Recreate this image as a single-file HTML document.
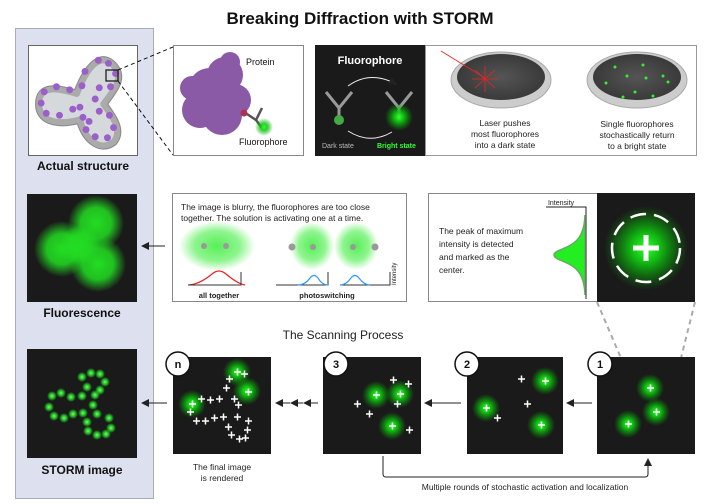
<!DOCTYPE html>
<html><head><meta charset="utf-8"><style>
html,body{margin:0;padding:0;background:#fff;}
svg{display:block;font-family:"Liberation Sans",sans-serif;}
</style></head><body>
<svg width="720" height="504" viewBox="0 0 720 504" xmlns="http://www.w3.org/2000/svg">
<defs>
<radialGradient id="g"><stop offset="0" stop-color="#3f3" stop-opacity="1"/><stop offset="0.35" stop-color="#1c1" stop-opacity="0.9"/><stop offset="1" stop-color="#0a0" stop-opacity="0"/></radialGradient>
<radialGradient id="gs"><stop offset="0" stop-color="#7f7"/><stop offset="0.5" stop-color="#2c2" stop-opacity="0.9"/><stop offset="1" stop-color="#2c2" stop-opacity="0"/></radialGradient>
<radialGradient id="gl"><stop offset="0" stop-color="#4e4" stop-opacity="0.9"/><stop offset="0.6" stop-color="#4e4" stop-opacity="0.6"/><stop offset="1" stop-color="#4e4" stop-opacity="0"/></radialGradient>
<radialGradient id="gf"><stop offset="0" stop-color="#2d2" stop-opacity="1"/><stop offset="0.55" stop-color="#2d2" stop-opacity="0.85"/><stop offset="1" stop-color="#2d2" stop-opacity="0"/></radialGradient>
<radialGradient id="dish"><stop offset="0" stop-color="#555"/><stop offset="1" stop-color="#3a3a3a"/></radialGradient>
<marker id="ah" markerWidth="8" markerHeight="8" refX="7" refY="4" orient="auto" markerUnits="userSpaceOnUse"><path d="M0,0 L8,4 L0,8 z" fill="#222"/></marker>
</defs>

<text x="360" y="24" text-anchor="middle" font-size="17" font-weight="bold" fill="#111">Breaking Diffraction with STORM</text>

<rect x="15.5" y="28.5" width="138" height="470" fill="#dde0ef" stroke="#aab"/>
<rect x="28.5" y="45.5" width="109" height="110" fill="#fff" stroke="#666"/>
<g transform="translate(85,99) scale(1.02)">
<path d="M-8,-5 C5,-40 20,-45 30,-30 C38,-18 25,-5 18,5 C25,15 38,30 28,42 C15,52 0,40 -5,20 C-20,25 -45,25 -45,5 C-45,-15 -25,-10 -8,-5 Z" fill="#c8ccd0" stroke="#888" stroke-width="8" stroke-linejoin="round"/>
<path d="M-8,-5 C5,-40 20,-45 30,-30 C38,-18 25,-5 18,5 C25,15 38,30 28,42 C15,52 0,40 -5,20 C-20,25 -45,25 -45,5 C-45,-15 -25,-10 -8,-5 Z" fill="#d6d9dc" stroke="#aaa" stroke-width="6" stroke-linejoin="round"/>
<g fill="#9b5fc9">
<circle cx="13" cy="-38" r="3.4"/><circle cx="23" cy="-35" r="3.4"/><circle cx="30" cy="-25" r="3.4"/><circle cx="25" cy="-12" r="3.4"/><circle cx="14" cy="-11" r="3.4"/>
<circle cx="0" cy="-27" r="3.4"/><circle cx="-3" cy="-13" r="3.4"/><circle cx="-15" cy="-9" r="3.4"/><circle cx="-28" cy="-12" r="3.4"/><circle cx="-40" cy="-7" r="3.4"/>
<circle cx="-43" cy="4" r="3.4"/><circle cx="-38" cy="14" r="3.4"/><circle cx="-25" cy="16" r="3.4"/><circle cx="-12" cy="10" r="3.4"/><circle cx="-5" cy="8" r="3.4"/>
<circle cx="10" cy="0" r="3.4"/><circle cx="14" cy="12" r="3.4"/><circle cx="24" cy="16" r="3.4"/><circle cx="28" cy="28" r="3.4"/><circle cx="22" cy="38" r="3.4"/>
<circle cx="10" cy="37" r="3.4"/><circle cx="1" cy="30" r="3.4"/><circle cx="-2" cy="18" r="3.4"/><circle cx="4" cy="22" r="3.4"/>
</g></g>
<rect x="106" y="70" width="12" height="11" fill="none" stroke="#111" stroke-width="1.2"/>
<line x1="118" y1="70" x2="173" y2="47" stroke="#111" stroke-dasharray="4,3"/>
<line x1="118" y1="81" x2="173" y2="155" stroke="#111" stroke-dasharray="4,3"/>
<text x="83" y="170" text-anchor="middle" font-size="12" font-weight="bold" fill="#111">Actual structure</text>

<rect x="27" y="194" width="110" height="108" fill="#1a1a1a"/>
<g fill="url(#gf)">
<circle cx="62" cy="249" r="28"/><circle cx="96" cy="223" r="28"/><circle cx="98" cy="264" r="28"/><circle cx="80" cy="245" r="20"/>
</g>
<text x="82" y="317" text-anchor="middle" font-size="12" font-weight="bold" fill="#111">Fluorescence</text>

<rect x="27" y="349" width="110" height="109" fill="#1a1a1a"/>
<g fill="url(#gs)">
<circle cx="91" cy="373" r="5"/><circle cx="100" cy="374" r="5"/><circle cx="82" cy="377" r="5"/><circle cx="105" cy="382" r="5"/><circle cx="87" cy="387" r="5"/><circle cx="100" cy="390" r="5"/>
<circle cx="52" cy="396" r="5"/><circle cx="61" cy="393" r="5"/><circle cx="71" cy="397" r="5"/><circle cx="82" cy="396" r="5"/><circle cx="95" cy="395" r="5"/>
<circle cx="49" cy="407" r="5"/><circle cx="54" cy="416" r="5"/><circle cx="64" cy="418" r="5"/><circle cx="73" cy="414" r="5"/><circle cx="83" cy="413" r="5"/><circle cx="93" cy="405" r="5"/>
<circle cx="87" cy="422" r="5"/><circle cx="97" cy="414" r="5"/><circle cx="109" cy="418" r="5"/><circle cx="111" cy="428" r="5"/><circle cx="88" cy="431" r="5"/><circle cx="97" cy="435" r="5"/><circle cx="106" cy="434" r="5"/>
</g>
<text x="82" y="474" text-anchor="middle" font-size="12" font-weight="bold" fill="#111">STORM image</text>

<rect x="173.5" y="45.5" width="130" height="110" fill="#fff" stroke="#888"/>
<g fill="#8a5aa6">
<circle cx="210" cy="90" r="22"/><circle cx="225" cy="75" r="18"/><circle cx="200" cy="110" r="18"/><circle cx="222" cy="115" r="20"/><circle cx="235" cy="100" r="16"/><circle cx="192" cy="88" r="12"/><circle cx="230" cy="62" r="10"/>
</g>
<circle cx="244" cy="113" r="3.5" fill="#b03050"/>
<path d="M247,114 L256,120 L262,108 M256,120 L262,128" stroke="#555" stroke-width="2.5" fill="none"/>
<circle cx="264" cy="127" r="9" fill="url(#g)"/>
<text x="246" y="65" font-size="9" fill="#111">Protein</text>
<text x="239" y="145" font-size="9" fill="#111">Fluorophore</text>

<rect x="315" y="45" width="110" height="111" fill="#1a1a1a"/>
<text x="370" y="64" text-anchor="middle" font-size="11" font-weight="bold" fill="#fff">Fluorophore</text>
<path d="M348,86 Q370,70 396,84" stroke="#eee" fill="none" stroke-width="1" marker-end="url(#ah)"/>
<path d="M392,132 Q370,145 348,131" stroke="#eee" fill="none" stroke-width="1"/>
<g stroke="#999" stroke-width="3" fill="none"><path d="M326,92 L339,108 L352,92 M339,108 L339,120"/><path d="M386,92 L399,108 L412,92 M399,108 L399,120"/></g>
<circle cx="339" cy="120" r="5" fill="#4a4"/>
<circle cx="399" cy="117" r="14" fill="url(#g)"/>
<text x="322" y="148" font-size="7" fill="#bbb">Dark state</text>
<text x="377" y="148" font-size="7" font-weight="bold" fill="#3f3">Bright state</text>

<rect x="425.5" y="45.5" width="271" height="110" fill="#fff" stroke="#999"/>
<ellipse cx="501" cy="80" rx="50" ry="28" fill="#ccc" stroke="#aaa"/>
<ellipse cx="501" cy="77" rx="44" ry="23" fill="url(#dish)"/>
<path d="M441,51 L485,78" stroke="#e22" stroke-width="0.8"/>
<g stroke="#e22" stroke-width="0.8"><line x1="475" y1="70" x2="495" y2="88"/><line x1="495" y1="70" x2="475" y2="88"/><line x1="485" y1="66" x2="485" y2="92"/><line x1="472" y1="79" x2="498" y2="79"/></g>
<ellipse cx="637" cy="80" rx="50" ry="28" fill="#ccc" stroke="#aaa"/>
<ellipse cx="637" cy="77" rx="44" ry="23" fill="url(#dish)"/>
<g fill="#3e3"><circle cx="615" cy="67" r="1.5"/><circle cx="643" cy="65" r="1.5"/><circle cx="627" cy="76" r="1.5"/><circle cx="646" cy="78" r="1.5"/><circle cx="663" cy="76" r="1.5"/><circle cx="668" cy="82" r="1.5"/><circle cx="606" cy="83" r="1.5"/><circle cx="635" cy="92" r="1.5"/><circle cx="623" cy="97" r="1.5"/><circle cx="653" cy="96" r="1.5"/></g>
<g font-size="8.5" fill="#222" text-anchor="middle">
<text x="505" y="126">Laser pushes</text><text x="505" y="137">most fluorophores</text><text x="505" y="148">into a dark state</text>
<text x="637" y="127">Single fluorophores</text><text x="637" y="138">stochastically return</text><text x="637" y="149">to a bright state</text>
</g>

<line x1="165" y1="246" x2="142" y2="246" stroke="#222" marker-end="url(#ah)"/>
<rect x="172.5" y="193.5" width="234" height="108" fill="#fff" stroke="#888"/>
<text x="181" y="210" font-size="8.5" fill="#222">The image is blurry, the fluorophores are too close</text>
<text x="181" y="221" font-size="8.5" fill="#222">together. The solution is activating one at a time.</text>
<ellipse cx="217" cy="246" rx="38" ry="25" fill="url(#gl)"/>
<ellipse cx="312" cy="246" rx="22" ry="24" fill="url(#gl)"/><ellipse cx="356" cy="246" rx="22" ry="24" fill="url(#gl)"/>
<g fill="#999"><circle cx="204" cy="246" r="3"/><circle cx="226" cy="246" r="3"/><circle cx="292" cy="247" r="3.5"/><circle cx="313" cy="247" r="3"/><circle cx="353" cy="247" r="3"/><circle cx="375" cy="247" r="3.5"/></g>
<path d="M189,285 Q200,284 212,274 Q219,268 226,274 Q238,284 245,285" stroke="#e22" fill="none" stroke-width="1.2"/>
<path d="M188,285 L241,285 L241,272" stroke="#333" fill="none"/>
<path d="M276,285 L328,285 L328,272" stroke="#333" fill="none"/>
<path d="M298,285 Q305,285 310,278 Q314,273 318,278 Q322,285 328,285" stroke="#39f" fill="none" stroke-width="1.2"/>
<path d="M340,285 L390,285 L390,272" stroke="#333" fill="none"/>
<path d="M340,285 Q346,285 351,278 Q355,273 359,278 Q364,285 370,285" stroke="#39f" fill="none" stroke-width="1.2"/>
<text x="396" y="285" font-size="6" fill="#222" transform="rotate(-90 396 285)">Intensity</text>
<text x="219" y="298" text-anchor="middle" font-size="7.5" font-weight="bold" fill="#222">all together</text>
<text x="327" y="298" text-anchor="middle" font-size="7.5" font-weight="bold" fill="#222">photoswitching</text>

<rect x="428.5" y="193.5" width="169" height="108" fill="#fff" stroke="#888"/>
<g font-size="8.5" fill="#222"><text x="439" y="234">The peak of maximum</text><text x="439" y="247">intensity is detected</text><text x="439" y="260">and marked as the</text><text x="439" y="273">center.</text></g>
<text x="561" y="205" text-anchor="middle" font-size="7" fill="#222">Intensity</text>
<path d="M546,207 L586,207 L586,299" stroke="#222" fill="none"/>
<path d="M585,215 C584,240 574,244 560,250 C552,253 552,257 560,260 C574,266 584,270 585,295 Z" fill="#2e2" stroke="#6a6" stroke-width="1.5"/>
<rect x="597" y="193" width="98" height="109" fill="#1a1a1a"/>
<circle cx="646" cy="248" r="42" fill="url(#g)"/>
<circle cx="646" cy="248" r="34" fill="none" stroke="#fff" stroke-width="2.5" stroke-dasharray="16,8"/>
<path d="M646,235 V261 M633,248 H659" stroke="#fff" stroke-width="5"/>
<line x1="597" y1="302" x2="644" y2="412" stroke="#aaa" stroke-width="2" stroke-dasharray="5,4"/>
<line x1="695" y1="302" x2="668" y2="410" stroke="#aaa" stroke-width="2" stroke-dasharray="5,4"/>

<text x="343" y="339" text-anchor="middle" font-size="12" fill="#222">The Scanning Process</text>

<rect x="173" y="357" width="98" height="97" fill="#1a1a1a"/>
<rect x="323" y="357" width="98" height="97" fill="#1a1a1a"/>
<rect x="467" y="357" width="96" height="97" fill="#1a1a1a"/>
<rect x="597" y="357" width="98" height="97" fill="#1a1a1a"/>
<g fill="url(#g)">
<circle cx="192" cy="404" r="14"/><circle cx="237" cy="372" r="14"/><circle cx="247" cy="391" r="14"/>
<circle cx="376" cy="395" r="14"/><circle cx="400" cy="394" r="14"/><circle cx="392" cy="426" r="14"/>
<circle cx="486" cy="408" r="14"/><circle cx="545" cy="381" r="14"/><circle cx="541" cy="425" r="14"/>
<circle cx="650" cy="388" r="14"/><circle cx="656" cy="412" r="14"/><circle cx="628" cy="424" r="14"/>
</g>
<g stroke="#fff" stroke-width="1.5">
<path d="M189,404h7m-3.5,-3.5v7 M234,372h7m-3.5,-3.5v7 M241,374h7m-3.5,-3.5v7 M245,392h7m-3.5,-3.5v7 M226,379h7m-3.5,-3.5v7 M223,388h7m-3.5,-3.5v7 M198,399h7m-3.5,-3.5v7 M207,400h7m-3.5,-3.5v7 M216,399h7m-3.5,-3.5v7 M231,399h7m-3.5,-3.5v7 M187,412h7m-3.5,-3.5v7 M193,421h7m-3.5,-3.5v7 M202,421h7m-3.5,-3.5v7 M211,418h7m-3.5,-3.5v7 M220,417h7m-3.5,-3.5v7 M235,405h7m-3.5,-3.5v7 M234,417h7m-3.5,-3.5v7 M225,427h7m-3.5,-3.5v7 M245,421h7m-3.5,-3.5v7 M244,430h7m-3.5,-3.5v7 M236,439h7m-3.5,-3.5v7 M228,435h7m-3.5,-3.5v7 M242,438h7m-3.5,-3.5v7"/>
<path d="M373,395h7m-3.5,-3.5v7 M397,394h7m-3.5,-3.5v7 M389,426h7m-3.5,-3.5v7 M390,380h7m-3.5,-3.5v7 M405,384h7m-3.5,-3.5v7 M354,404h7m-3.5,-3.5v7 M366,414h7m-3.5,-3.5v7 M394,404h7m-3.5,-3.5v7 M406,430h7m-3.5,-3.5v7"/>
<path d="M483,408h7m-3.5,-3.5v7 M542,381h7m-3.5,-3.5v7 M538,425h7m-3.5,-3.5v7 M518,379h7m-3.5,-3.5v7 M524,404h7m-3.5,-3.5v7 M494,418h7m-3.5,-3.5v7"/>
<path d="M647,388h7m-3.5,-3.5v7 M653,412h7m-3.5,-3.5v7 M625,424h7m-3.5,-3.5v7"/>
</g>
<g fill="#fff" stroke="#111" stroke-width="1.5">
<circle cx="178" cy="364" r="12"/><circle cx="336" cy="364" r="12"/><circle cx="467" cy="364" r="12"/><circle cx="600" cy="364" r="12"/>
</g>
<g font-size="11" font-weight="bold" fill="#111" text-anchor="middle">
<text x="178" y="368">n</text><text x="336" y="368">3</text><text x="467" y="368">2</text><text x="600" y="368">1</text></g>

<g stroke="#222" marker-end="url(#ah)">
<line x1="167" y1="403" x2="142" y2="403"/>
<line x1="290" y1="403" x2="276" y2="403"/><line x1="303" y1="403" x2="291" y2="403"/><line x1="318" y1="403" x2="304" y2="403"/>
<line x1="461" y1="403" x2="425" y2="403"/>
<line x1="592" y1="403" x2="567" y2="403"/>
</g>
<path d="M383,456 V474 Q383,477 386,477 H645 Q648,477 648,474 V459" stroke="#222" fill="none" marker-end="url(#ah)"/>
<text x="222" y="470" text-anchor="middle" font-size="8.5" fill="#222">The final image</text>
<text x="222" y="481" text-anchor="middle" font-size="8.5" fill="#222">is rendered</text>
<text x="525" y="490" text-anchor="middle" font-size="8.5" fill="#222">Multiple rounds of stochastic activation and localization</text>
</svg>
</body></html>
